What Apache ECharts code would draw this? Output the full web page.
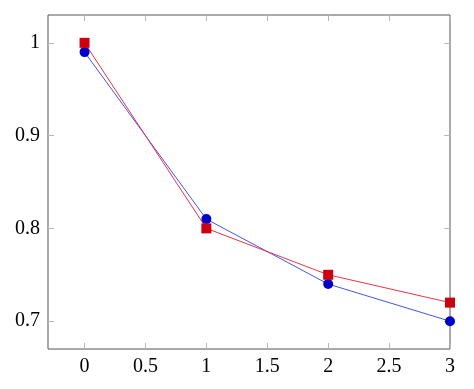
<!DOCTYPE html>
<html><head><meta charset="utf-8">
<script src="https://cdn.jsdelivr.net/npm/echarts@6/dist/echarts.min.js"></script>
<style>html,body{margin:0;padding:0;background:#fff}#c{width:474px;height:389px}</style>
</head><body><div id="c"></div>
<script>
const xValues = [0, 1, 2, 3];
const blueValues = [0.99, 0.81, 0.74, 0.70];
const redValues = [1.0, 0.80, 0.75, 0.72];
const xTicks = [0, 0.5, 1, 1.5, 2, 2.5, 3];
const yTicks = [0.7, 0.8, 0.9, 1];

const font = 'Liberation Serif';
const tickStyle = {lineStyle:{color:'#b8b8b8', width:1}};
const chart = echarts.init(document.getElementById('c'));
const xBase = {type:'value', min:-0.3, max:3, splitLine:{show:false}, axisLine:{show:false, onZero:false}};
const yBase = {type:'value', min:0.67, max:1.03, splitLine:{show:false}, axisLine:{show:false, onZero:false}};
chart.setOption({
  animation:false,
  grid:{left:48, right:24, top:15, bottom:40, show:true, borderColor:'#555', borderWidth:1, backgroundColor:'transparent'},
  xAxis:[
    Object.assign({}, xBase, {position:'bottom',
      axisTick:Object.assign({inside:true, length:6, customValues:xTicks}, tickStyle),
      axisLabel:{customValues:xTicks, margin:8, color:'#000', fontFamily:font, fontSize:20, formatter:v=>String(v)}}),
    Object.assign({}, xBase, {position:'top',
      axisTick:Object.assign({inside:true, length:6, customValues:xTicks}, tickStyle),
      axisLabel:{show:false}})
  ],
  yAxis:[
    Object.assign({}, yBase, {position:'left',
      axisTick:Object.assign({inside:true, length:6, customValues:yTicks}, tickStyle),
      axisLabel:{customValues:yTicks, margin:8, color:'#000', fontFamily:font, fontSize:20, formatter:v=>String(+v.toFixed(2))}}),
    Object.assign({}, yBase, {position:'right',
      axisTick:Object.assign({inside:true, length:6, customValues:yTicks}, tickStyle),
      axisLabel:{show:false}})
  ],
  series:[
    {type:'line', name:'blue', data:xValues.map((x,i)=>[x, blueValues[i]]), symbol:'circle', symbolSize:10,
     itemStyle:{color:'#0000cc'}, lineStyle:{color:'#4455ee', width:1}},
    {type:'line', name:'red', data:xValues.map((x,i)=>[x, redValues[i]]), symbol:'rect', symbolSize:10,
     itemStyle:{color:'#cc0011'}, lineStyle:{color:'#ee3344', width:1}}
  ]
});
</script></body></html>
